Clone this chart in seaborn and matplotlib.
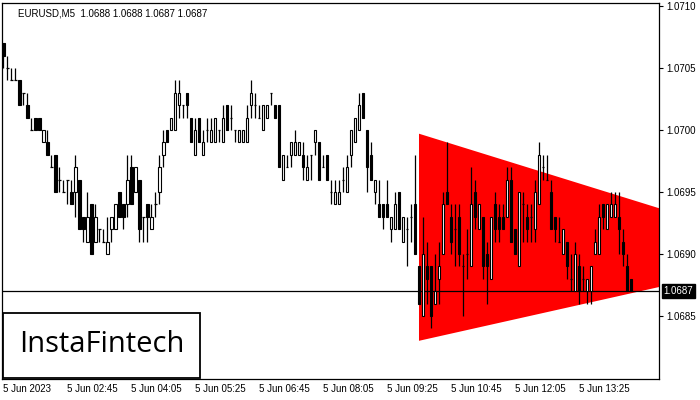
import numpy as np
import matplotlib
matplotlib.use("Agg")
import matplotlib.pyplot as plt
import matplotlib.transforms as mtransforms
from matplotlib.patches import Polygon, Rectangle
import seaborn as sns

# EURUSD M5 candles, 5 Jun 2023 01:25 .. 14:30
opens = [
    1.0707, 1.0705, 1.0704, 1.0704, 1.0704, 1.0703, 1.0702, 1.0700, 1.0701, 1.0701,
    1.0699, 1.0699, 1.0697, 1.0698, 1.0696, 1.0695, 1.0696, 1.0695, 1.0695, 1.0696,
    1.0693, 1.0691, 1.0694, 1.0691, 1.0692, 1.0691, 1.0690, 1.0692, 1.0692, 1.0695,
    1.0694, 1.0694, 1.0697, 1.0695, 1.0696, 1.0693, 1.0694, 1.0692, 1.0694, 1.0695,
    1.0698, 1.0700, 1.0700, 1.0700, 1.0702, 1.0702, 1.0703, 1.0701, 1.0698, 1.0701,
    1.0698, 1.0700, 1.0699, 1.0699, 1.0700, 1.0699, 1.0702, 1.0701, 1.0700, 1.0699,
    1.0699, 1.0699, 1.0702, 1.0702, 1.0701, 1.0700, 1.0701, 1.0703, 1.0702, 1.0702,
    1.0696, 1.0697, 1.0698, 1.0698, 1.0698, 1.0698, 1.0696, 1.0698, 1.0699, 1.0699,
    1.0697, 1.0698, 1.0695, 1.0694, 1.0694, 1.0696, 1.0695, 1.0698, 1.0699, 1.0700,
    1.0703, 1.0700, 1.0698, 1.0695, 1.0694, 1.0694, 1.0694, 1.0692, 1.0692, 1.0695,
    1.0691, 1.0692, 1.0693, 1.0694, 1.0689, 1.0685, 1.0689, 1.0689, 1.0686, 1.0688,
    1.0690, 1.0695, 1.0693, 1.0692, 1.0693, 1.0689, 1.0690, 1.0689, 1.0695, 1.0692,
    1.0693, 1.0690, 1.0688, 1.0694, 1.0693, 1.0693, 1.0693, 1.0696, 1.0692, 1.0689,
    1.0694, 1.0693, 1.0693, 1.0692, 1.0694, 1.0697, 1.0696, 1.0695, 1.0693, 1.0691,
    1.0690, 1.0691, 1.0688, 1.0687, 1.0689, 1.0688, 1.0687, 1.0687, 1.0690, 1.0690,
    1.0694, 1.0692, 1.0693, 1.0693, 1.0693, 1.0691, 1.0689, 1.0688,
]
highs = [
    1.0707, 1.0706, 1.0705, 1.0705, 1.0704, 1.0703, 1.0703, 1.0701, 1.0701, 1.0701,
    1.0700, 1.0700, 1.0698, 1.0698, 1.0697, 1.0696, 1.0696, 1.0696, 1.0698, 1.0696,
    1.0693, 1.0695, 1.0694, 1.0694, 1.0692, 1.0692, 1.0693, 1.0693, 1.0694, 1.0695,
    1.0694, 1.0698, 1.0698, 1.0697, 1.0696, 1.0693, 1.0694, 1.0694, 1.0695, 1.0698,
    1.0700, 1.0700, 1.0701, 1.0704, 1.0704, 1.0702, 1.0703, 1.0701, 1.0701, 1.0701,
    1.0700, 1.0701, 1.0701, 1.0701, 1.0700, 1.0702, 1.0702, 1.0702, 1.0700, 1.0700,
    1.0700, 1.0702, 1.0704, 1.0703, 1.0702, 1.0702, 1.0702, 1.0703, 1.0702, 1.0702,
    1.0698, 1.0698, 1.0699, 1.0700, 1.0699, 1.0699, 1.0698, 1.0698, 1.0700, 1.0699,
    1.0698, 1.0698, 1.0696, 1.0696, 1.0696, 1.0697, 1.0698, 1.0700, 1.0701, 1.0703,
    1.0703, 1.0700, 1.0699, 1.0696, 1.0696, 1.0694, 1.0696, 1.0693, 1.0695, 1.0695,
    1.0693, 1.0693, 1.0694, 1.0698, 1.0689, 1.0693, 1.0691, 1.0689, 1.0690, 1.0691,
    1.0695, 1.0699, 1.0694, 1.0694, 1.0694, 1.0690, 1.0692, 1.0697, 1.0696, 1.0694,
    1.0693, 1.0691, 1.0693, 1.0695, 1.0694, 1.0694, 1.0697, 1.0697, 1.0692, 1.0695,
    1.0695, 1.0694, 1.0694, 1.0696, 1.0699, 1.0698, 1.0698, 1.0696, 1.0693, 1.0693,
    1.0692, 1.0691, 1.0690, 1.0691, 1.0690, 1.0689, 1.0688, 1.0689, 1.0692, 1.0694,
    1.0694, 1.0694, 1.0695, 1.0695, 1.0695, 1.0692, 1.0690, 1.0688,
]
lows = [
    1.0705, 1.0704, 1.0704, 1.0704, 1.0702, 1.0702, 1.0701, 1.0700, 1.0700, 1.0700,
    1.0699, 1.0698, 1.0697, 1.0695, 1.0695, 1.0695, 1.0694, 1.0694, 1.0693, 1.0692,
    1.0691, 1.0691, 1.0690, 1.0691, 1.0691, 1.0691, 1.0690, 1.0691, 1.0692, 1.0693,
    1.0692, 1.0693, 1.0694, 1.0695, 1.0691, 1.0691, 1.0691, 1.0692, 1.0693, 1.0694,
    1.0697, 1.0699, 1.0700, 1.0700, 1.0701, 1.0701, 1.0701, 1.0699, 1.0698, 1.0699,
    1.0698, 1.0699, 1.0699, 1.0699, 1.0699, 1.0699, 1.0700, 1.0700, 1.0699, 1.0699,
    1.0699, 1.0699, 1.0701, 1.0701, 1.0701, 1.0700, 1.0701, 1.0702, 1.0701, 1.0697,
    1.0696, 1.0697, 1.0697, 1.0698, 1.0698, 1.0696, 1.0696, 1.0696, 1.0698, 1.0696,
    1.0697, 1.0696, 1.0694, 1.0694, 1.0694, 1.0695, 1.0695, 1.0697, 1.0699, 1.0700,
    1.0701, 1.0695, 1.0696, 1.0694, 1.0693, 1.0692, 1.0693, 1.0691, 1.0692, 1.0692,
    1.0691, 1.0689, 1.0691, 1.0690, 1.0686, 1.0685, 1.0686, 1.0684, 1.0686, 1.0686,
    1.0690, 1.0694, 1.0690, 1.0689, 1.0689, 1.0685, 1.0688, 1.0689, 1.0692, 1.0692,
    1.0688, 1.0686, 1.0688, 1.0691, 1.0691, 1.0692, 1.0693, 1.0691, 1.0690, 1.0689,
    1.0691, 1.0691, 1.0691, 1.0691, 1.0694, 1.0696, 1.0696, 1.0692, 1.0691, 1.0691,
    1.0690, 1.0688, 1.0687, 1.0687, 1.0686, 1.0687, 1.0686, 1.0686, 1.0690, 1.0690,
    1.0692, 1.0692, 1.0693, 1.0693, 1.0690, 1.0689, 1.0687, 1.0687,
]
closes = [
    1.0706, 1.0705, 1.0704, 1.0704, 1.0702, 1.0703, 1.0701, 1.0700, 1.0700, 1.0700,
    1.0700, 1.0698, 1.0697, 1.0695, 1.0696, 1.0695, 1.0696, 1.0694, 1.0697, 1.0692,
    1.0692, 1.0693, 1.0690, 1.0693, 1.0692, 1.0691, 1.0691, 1.0693, 1.0694, 1.0693,
    1.0693, 1.0696, 1.0694, 1.0697, 1.0692, 1.0693, 1.0693, 1.0693, 1.0694, 1.0697,
    1.0699, 1.0699, 1.0701, 1.0703, 1.0703, 1.0702, 1.0702, 1.0699, 1.0700, 1.0699,
    1.0699, 1.0700, 1.0700, 1.0701, 1.0700, 1.0701, 1.0700, 1.0701, 1.0700, 1.0700,
    1.0700, 1.0701, 1.0703, 1.0702, 1.0701, 1.0702, 1.0702, 1.0703, 1.0701, 1.0697,
    1.0698, 1.0697, 1.0699, 1.0699, 1.0699, 1.0697, 1.0697, 1.0698, 1.0700, 1.0696,
    1.0697, 1.0696, 1.0695, 1.0695, 1.0695, 1.0696, 1.0697, 1.0700, 1.0701, 1.0702,
    1.0701, 1.0697, 1.0696, 1.0696, 1.0693, 1.0693, 1.0693, 1.0693, 1.0694, 1.0692,
    1.0693, 1.0692, 1.0693, 1.0690, 1.0686, 1.0690, 1.0688, 1.0685, 1.0687, 1.0689,
    1.0694, 1.0694, 1.0691, 1.0692, 1.0690, 1.0689, 1.0690, 1.0694, 1.0693, 1.0694,
    1.0689, 1.0689, 1.0693, 1.0692, 1.0692, 1.0692, 1.0696, 1.0691, 1.0690, 1.0695,
    1.0694, 1.0692, 1.0693, 1.0695, 1.0698, 1.0697, 1.0696, 1.0692, 1.0692, 1.0691,
    1.0692, 1.0689, 1.0688, 1.0690, 1.0687, 1.0688, 1.0688, 1.0689, 1.0691, 1.0693,
    1.0693, 1.0694, 1.0694, 1.0694, 1.0692, 1.0690, 1.0687, 1.0687,
]

# time axis labels, one every 16 bars
time_ticks = [0, 16, 32, 48, 64, 80, 96, 112, 128, 144]
time_labels = ["5 Jun 2023", "5 Jun 02:45", "5 Jun 04:05", "5 Jun 05:25", "5 Jun 06:45",
               "5 Jun 08:05", "5 Jun 09:25", "5 Jun 10:45", "5 Jun 12:05", "5 Jun 13:25"]
price_ticks = [1.0685, 1.0690, 1.0695, 1.0700, 1.0705, 1.0710]

# symmetrical triangle pattern (bar index, price)
pattern_x = [104, 201, 104]
pattern_y = [1.06997, 1.06900, 1.06830]

last_price = 1.0687
title = "EURUSD,M5  1.0688 1.0688 1.0687 1.0687"

sns.set_style("white")
plt.rcParams['font.family'] = ['Liberation Sans', 'DejaVu Sans']

fig = plt.figure(figsize=(7, 4), dpi=100)
ax = fig.add_axes([1.7 / 700, 21.5 / 400, 657.8 / 700, 375.5 / 400])

# pattern
ax.add_patch(Polygon(list(zip(pattern_x, pattern_y)), closed=True,
                     facecolor="#ff0000", edgecolor="none", zorder=1))

# current price line
ax.axhline(last_price, color="black", lw=0.9, zorder=2)

# candles
o = np.array(opens)
h = np.array(highs)
l = np.array(lows)
c = np.array(closes)
idx = np.arange(len(o))
body_w = 0.6

ax.vlines(idx, l, h, color="black", lw=0.9, zorder=3)
up = c > o + 1e-9
down = c < o - 1e-9
flat = ~(up | down)
ax.bar(idx[down], (o - c)[down], bottom=c[down], width=body_w,
       color="black", edgecolor="black", lw=0.8, zorder=4)
ax.bar(idx[up], (c - o)[up], bottom=o[up], width=body_w,
       color="white", edgecolor="black", lw=0.8, zorder=4)
ax.hlines(o[flat], idx[flat] - body_w / 2, idx[flat] + body_w / 2,
          color="black", lw=0.9, zorder=4)

ax.set_xlim(-0.45, 164.2)
ax.set_ylim(1.067996, 1.071024)

# axes cosmetics
for sp in ax.spines.values():
    sp.set_color("black")
    sp.set_linewidth(0.9)
ax.yaxis.tick_right()
ax.set_yticks(price_ticks)
ax.set_yticklabels([f"{p:.4f}" for p in price_ticks])
ax.set_xticks(time_ticks)
ax.set_xticklabels(time_labels, ha="left")
ax.tick_params(axis="both", direction="out", length=3, width=0.8, color="black",
               labelsize=7, labelcolor="black")
ax.tick_params(axis="y", pad=2)
ax.tick_params(axis="x", pad=1)
ax.grid(False)

# last price tag on the axis
trans = mtransforms.blended_transform_factory(ax.transAxes, ax.transData)
ax.text(1.006, last_price, f"{last_price:.4f}", transform=trans, ha="left", va="center",
        fontsize=7, color="white", zorder=6, clip_on=False,
        bbox=dict(boxstyle="square,pad=0.18", facecolor="black", edgecolor="black"))

# symbol header
fig.text(18 / 700, 1 - 13 / 400, title, ha="left", va="center", fontsize=7, color="black")

# logo box
fig.patches.append(Rectangle((3 / 700, 22.5 / 400), 197 / 700, 65 / 400,
                             transform=fig.transFigure, facecolor="white",
                             edgecolor="black", lw=1.3, zorder=10))
fig.text(102 / 700, 1 - 345 / 400, "InstaFintech", ha="center", va="center",
         fontsize=21, color="black", family="Open Sans", weight="medium", zorder=11)

plt.savefig("out.png", dpi=100)
